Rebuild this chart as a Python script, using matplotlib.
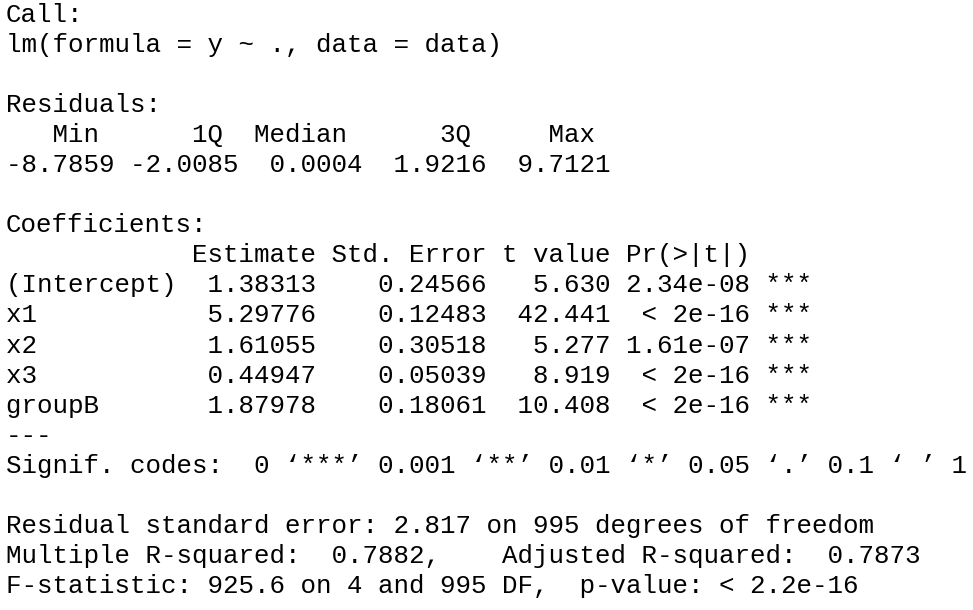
import matplotlib.pyplot as plt

# values shown in the R summary
resid_labels = ["Min", "1Q", "Median", "3Q", "Max"]
resid_values = ["-8.7859", "-2.0085", "0.0004", "1.9216", "9.7121"]
coef_names = ["(Intercept)", "x1", "x2", "x3", "groupB"]
estimates = ["1.38313", "5.29776", "1.61055", "0.44947", "1.87978"]
std_errors = ["0.24566", "0.12483", "0.30518", "0.05039", "0.18061"]
t_values = ["5.630", "42.441", "5.277", "8.919", "10.408"]
p_values = ["2.34e-08", "< 2e-16", "1.61e-07", "< 2e-16", "< 2e-16"]
stars = ["***", "***", "***", "***", "***"]

lines = ["Call:", "lm(formula = y ~ ., data = data)", "", "Residuals:"]
lines.append(" ".join(l.rjust(6) if i == 0 else l.rjust(7) for i, l in enumerate(resid_labels)))
lines.append(" ".join(v.rjust(7) for v in resid_values))
lines += ["", "Coefficients:", "            Estimate Std. Error t value Pr(>|t|)    "]
for n, e, s, t, p, st in zip(coef_names, estimates, std_errors, t_values, p_values, stars):
    lines.append(n.ljust(11) + e.rjust(9) + s.rjust(11) + t.rjust(8) + p.rjust(9) + " " + st)
lines += ["---",
          "Signif. codes:  0 \u2018***\u2019 0.001 \u2018**\u2019 0.01 \u2018*\u2019 0.05 \u2018.\u2019 0.1 \u2018 \u2019 1",
          "",
          "Residual standard error: 2.817 on 995 degrees of freedom",
          "Multiple R-squared:  0.7882,    Adjusted R-squared:  0.7873 ",
          "F-statistic: 925.6 on 4 and 995 DF,  p-value: < 2.2e-16"]

fig = plt.figure(figsize=(9.73, 6.10), dpi=100)
fig.patch.set_facecolor("white")
for i, line in enumerate(lines):
    y = 1 - (15 + 30.05 * i) / 610
    fig.text(6 / 973, y, line, family=["Liberation Mono", "DejaVu Sans Mono"],
             fontsize=18.6, va="center", ha="left", color="black")
fig.savefig("out.png", dpi=100)
